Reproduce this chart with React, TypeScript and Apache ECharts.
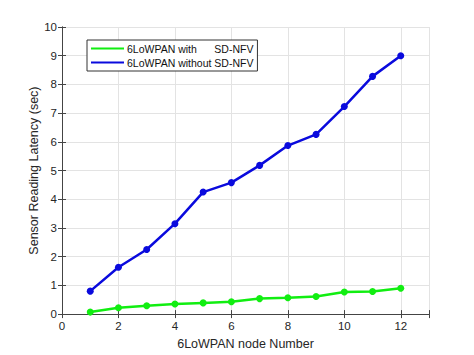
import React, { useEffect, useRef } from "react";
import * as echarts from "echarts";

const nodes = [1, 2, 3, 4, 5, 6, 7, 8, 9, 10, 11, 12];
const withSDNFV = [0.07, 0.22, 0.29, 0.35, 0.39, 0.43, 0.54, 0.57, 0.61, 0.77, 0.79, 0.9];
const withoutSDNFV = [0.8, 1.63, 2.25, 3.15, 4.25, 4.58, 5.18, 5.87, 6.26, 7.23, 8.28, 9.0];
const seriesNames = ["6LoWPAN with      SD-NFV", "6LoWPAN without SD-NFV"];
const xTitle = "6LoWPAN node Number";
const yTitle = "Sensor Reading Latency (sec)";

export default function App() {
  const ref = useRef<HTMLDivElement>(null);
  useEffect(() => {
    if (!ref.current) return;
    const chart = echarts.init(ref.current, null, { renderer: "svg" });
    const font = "Liberation Sans, Arial, sans-serif";
    const axisColor = "#262626";
    const gridColor = "#e3e3e3";
    const common = {
      axisLine: { show: true, lineStyle: { color: "#444", width: 1 } },
      axisTick: { show: true, inside: true, length: 4, lineStyle: { color: "#444" } },
    };
    chart.setOption({
      animation: false,
      backgroundColor: "#fff",
      textStyle: { fontFamily: font },
      grid: { left: 62, right: 45, top: 27, bottom: 40, show: false },
      legend: {
        left: 87,
        top: 40,
        orient: "vertical",
        itemWidth: 33,
        itemHeight: 2,
        itemGap: 3,
        padding: [3, 4, 3, 4],
        borderColor: "#333",
        borderWidth: 1,
        backgroundColor: "#fff",
        icon: "rect",
        textStyle: { fontSize: 10.5, color: "#111", fontFamily: font, padding: [0, 0, 0, -2] },
        data: seriesNames,
      },
      xAxis: [
        {
          type: "value",
          min: 0,
          max: 13,
          interval: 2,
          name: xTitle,
          nameLocation: "middle",
          nameGap: 22,
          nameTextStyle: { fontSize: 12.5, color: axisColor, fontFamily: font },
          ...common,
          axisLabel: {
            fontSize: 11.5,
            color: axisColor,
            margin: 6,
            formatter: (v: number) => (v % 2 === 0 ? String(v) : ""),
          },
          splitLine: { show: true, lineStyle: { color: gridColor, width: 1 } },
        },
        {
          type: "value",
          position: "top",
          min: 0,
          max: 13,
          interval: 2,
          ...common,
          axisLabel: { show: false },
          splitLine: { show: false },
        },
      ],
      yAxis: [
        {
          type: "value",
          min: 0,
          max: 10,
          interval: 1,
          name: yTitle,
          nameLocation: "middle",
          nameGap: 22,
          nameMoveOverlap: false,
          nameTextStyle: { fontSize: 12.5, color: axisColor, fontFamily: font },
          ...common,
          axisLabel: { fontSize: 11.5, color: axisColor, margin: 5 },
          splitLine: { show: true, lineStyle: { color: gridColor, width: 1 } },
        },
        {
          type: "value",
          position: "right",
          min: 0,
          max: 10,
          interval: 1,
          ...common,
          axisLabel: { show: false },
          splitLine: { show: false },
        },
      ],
      series: [
        {
          name: seriesNames[0],
          type: "line",
          data: nodes.map((n, i) => [n, withSDNFV[i]]),
          symbol: "circle",
          symbolSize: 7,
          lineStyle: { color: "#11ee11", width: 2.5 },
          itemStyle: { color: "#11ee11" },
        },
        {
          name: seriesNames[1],
          type: "line",
          data: nodes.map((n, i) => [n, withoutSDNFV[i]]),
          symbol: "circle",
          symbolSize: 7,
          lineStyle: { color: "#0a0add", width: 2.5 },
          itemStyle: { color: "#0a0add" },
        },
      ],
    });
    return () => chart.dispose();
  }, []);
  return <div ref={ref} style={{ width: 474, height: 355, position: "absolute", left: 0, top: 0 }} />;
}
